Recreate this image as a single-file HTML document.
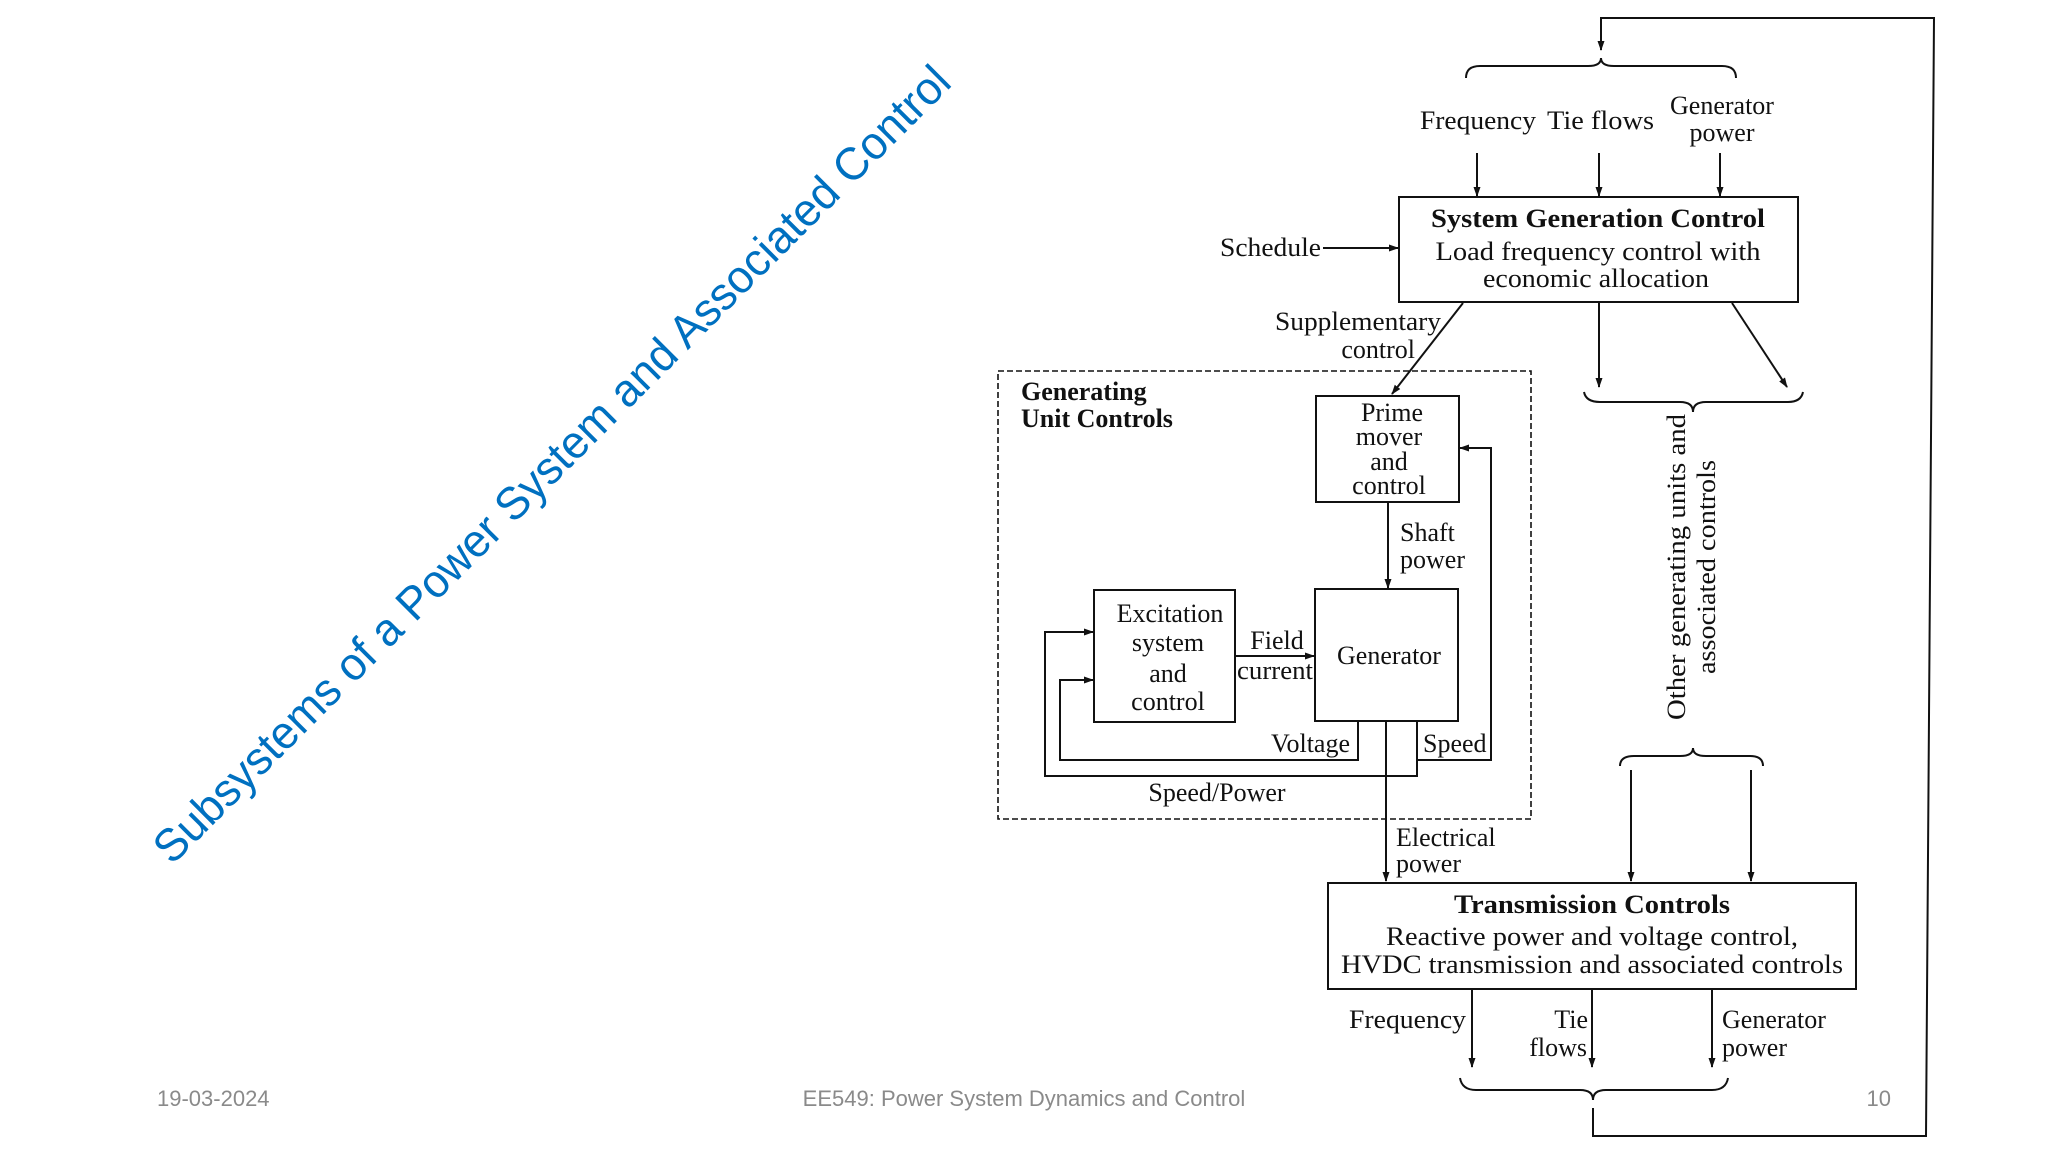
<!DOCTYPE html>
<html><head><meta charset="utf-8"><style>
html,body{margin:0;padding:0;background:#fff;}
svg{display:block;}
.t{font-family:"Liberation Serif",serif;font-size:26px;fill:#111;}
.b{font-weight:bold;}
</style></head><body>
<svg width="2048" height="1152" viewBox="0 0 2048 1152" xmlns="http://www.w3.org/2000/svg">
<defs>
<marker id="a" markerWidth="10" markerHeight="8" refX="9" refY="4" orient="auto" markerUnits="userSpaceOnUse">
<path d="M0,0.5 L10,4 L0,7.5 Z" fill="#111"/></marker>
</defs>

<!-- Title -->
<text x="172" y="866" transform="rotate(-45 172 866)" font-family="Liberation Sans, sans-serif" font-size="46" fill="#0070C0" textLength="1105" lengthAdjust="spacingAndGlyphs">Subsystems of a Power System and Associated Control</text>

<!-- Footer -->
<g font-family="Liberation Sans, sans-serif" font-size="22" fill="#8a8a8a">
<text x="157" y="1106">19-03-2024</text>
<text x="1024" y="1106" text-anchor="middle">EE549: Power System Dynamics and Control</text>
<text x="1891" y="1106" text-anchor="end">10</text>
</g>

<g stroke="#111" stroke-width="2" fill="none">
<polyline points="1593,1108 1593,1136 1926,1136 1934,18 1601,18 1601,50" marker-end="url(#a)"/>
<path d="M1466,78 Q1466,66 1480,66 L1588,66 Q1601,66 1601,58 Q1601,66 1614,66 L1722,66 Q1736,66 1736,78"/>
<line x1="1477" y1="153" x2="1477" y2="196" marker-end="url(#a)"/>
<line x1="1599" y1="153" x2="1599" y2="196" marker-end="url(#a)"/>
<line x1="1720" y1="153" x2="1720" y2="196" marker-end="url(#a)"/>
<rect x="1399" y="197" width="399" height="105"/>
<line x1="1323" y1="248" x2="1398" y2="248" marker-end="url(#a)"/>
<line x1="1463" y1="303" x2="1392" y2="394" marker-end="url(#a)"/>
<line x1="1599" y1="303" x2="1599" y2="387" marker-end="url(#a)"/>
<line x1="1732" y1="303" x2="1787" y2="387" marker-end="url(#a)"/>
<path d="M1584,392 Q1586,402 1600,402 L1680,402 Q1693,402 1693,412 Q1693,402 1706,402 L1788,402 Q1801,402 1803,392"/>
<path d="M1620,766 Q1620,756 1634,756 L1680,756 Q1693,756 1693,748 Q1693,756 1706,756 L1750,756 Q1763,756 1763,766"/>
<line x1="1631" y1="770" x2="1631" y2="881" marker-end="url(#a)"/>
<line x1="1751" y1="770" x2="1751" y2="881" marker-end="url(#a)"/>
<rect x="998" y="371" width="533" height="448" stroke-dasharray="6,3" stroke-width="1.6"/>
<rect x="1316" y="396" width="143" height="106"/>
<line x1="1388" y1="502" x2="1388" y2="588" marker-end="url(#a)"/>
<rect x="1315" y="589" width="143" height="132"/>
<rect x="1094" y="590" width="141" height="132"/>
<line x1="1235" y1="656" x2="1314" y2="656" marker-end="url(#a)"/>
<polyline points="1358,721 1358,760 1060,760 1060,680 1093,680" marker-end="url(#a)"/>
<polyline points="1417,721 1417,760 1491,760 1491,448 1460,448" marker-end="url(#a)"/>
<polyline points="1417,760 1417,776 1045,776 1045,632 1093,632" marker-end="url(#a)"/>
<line x1="1386" y1="721" x2="1386" y2="881" marker-end="url(#a)"/>
<rect x="1328" y="883" width="528" height="106"/>
<line x1="1472" y1="989" x2="1472" y2="1067" marker-end="url(#a)"/>
<line x1="1592" y1="989" x2="1592" y2="1067" marker-end="url(#a)"/>
<line x1="1712" y1="989" x2="1712" y2="1067" marker-end="url(#a)"/>
<path d="M1460,1078 Q1462,1090 1476,1090 L1580,1090 Q1593,1090 1593,1100 Q1593,1090 1606,1090 L1712,1090 Q1726,1090 1728,1078"/>
</g>

<g class="t">
<text x="1420" y="129" textLength="116" lengthAdjust="spacingAndGlyphs">Frequency</text>
<text x="1547" y="129" textLength="107" lengthAdjust="spacingAndGlyphs">Tie flows</text>
<text x="1722" y="114" text-anchor="middle">Generator</text>
<text x="1722" y="141" text-anchor="middle">power</text>

<text x="1598" y="227" text-anchor="middle" class="b" textLength="334" lengthAdjust="spacingAndGlyphs">System Generation Control</text>
<text x="1598" y="260" text-anchor="middle" textLength="325" lengthAdjust="spacingAndGlyphs">Load frequency control with</text>
<text x="1596" y="287" text-anchor="middle" textLength="226" lengthAdjust="spacingAndGlyphs">economic allocation</text>

<text x="1220" y="256" textLength="101" lengthAdjust="spacingAndGlyphs">Schedule</text>
<text x="1441" y="330" text-anchor="end" textLength="166" lengthAdjust="spacingAndGlyphs">Supplementary</text>
<text x="1415" y="358" text-anchor="end">control</text>

<text x="1021" y="400" class="b">Generating</text>
<text x="1021" y="427" class="b">Unit Controls</text>

<text x="1392" y="421" text-anchor="middle">Prime</text>
<text x="1389" y="445" text-anchor="middle">mover</text>
<text x="1389" y="470" text-anchor="middle">and</text>
<text x="1389" y="494" text-anchor="middle">control</text>

<text x="1400" y="541">Shaft</text>
<text x="1400" y="568">power</text>

<text x="1389" y="664" text-anchor="middle">Generator</text>

<text x="1170" y="622" text-anchor="middle">Excitation</text>
<text x="1168" y="651" text-anchor="middle">system</text>
<text x="1168" y="682" text-anchor="middle">and</text>
<text x="1168" y="710" text-anchor="middle">control</text>

<text x="1277" y="649" text-anchor="middle">Field</text>
<text x="1275" y="679" text-anchor="middle" textLength="76" lengthAdjust="spacingAndGlyphs">current</text>

<text x="1350" y="752" text-anchor="end">Voltage</text>
<text x="1423" y="752">Speed</text>
<text x="1217" y="801" text-anchor="middle">Speed/Power</text>

<text x="1396" y="846">Electrical</text>
<text x="1396" y="872">power</text>

<text x="1592" y="913" text-anchor="middle" class="b" textLength="276" lengthAdjust="spacingAndGlyphs">Transmission Controls</text>
<text x="1592" y="945" text-anchor="middle" textLength="412" lengthAdjust="spacingAndGlyphs">Reactive power and voltage control,</text>
<text x="1592" y="973" text-anchor="middle" textLength="502" lengthAdjust="spacingAndGlyphs">HVDC transmission and associated controls</text>

<text x="1466" y="1028" text-anchor="end" textLength="117" lengthAdjust="spacingAndGlyphs">Frequency</text>
<text x="1588" y="1028" text-anchor="end">Tie</text>
<text x="1587" y="1056" text-anchor="end">flows</text>
<text x="1722" y="1028">Generator</text>
<text x="1722" y="1056">power</text>

<text x="1685" y="567" text-anchor="middle" transform="rotate(-90 1685 567)" textLength="306" lengthAdjust="spacingAndGlyphs">Other generating units and</text>
<text x="1715" y="567" text-anchor="middle" transform="rotate(-90 1715 567)" textLength="214" lengthAdjust="spacingAndGlyphs">associated controls</text>
</g>
</svg>
</body></html>
